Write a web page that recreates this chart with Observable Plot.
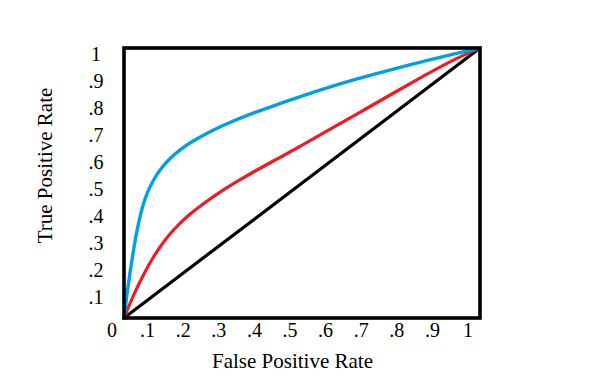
<!DOCTYPE html>
<html>
<head>
<meta charset="utf-8">
<script src="https://cdn.jsdelivr.net/npm/d3@7"></script>
<script src="https://cdn.jsdelivr.net/npm/@observablehq/plot@0.6"></script>
<style>
  html, body { margin: 0; padding: 0; background: #fff; }
  #chart svg { display: block; }
</style>
</head>
<body>
<div id="chart"></div>
<script>
// Tick values and labels
const xTicks = [0, 0.1, 0.2, 0.3, 0.4, 0.5, 0.6, 0.7, 0.8, 0.9, 1];
const yTicks = [0.1, 0.2, 0.3, 0.4, 0.5, 0.6, 0.7, 0.8, 0.9, 1];
const tickLabel = v => v === 0 ? "0" : v === 1 ? "1" : "." + Math.round(v * 10);

// Chance line (black)
const chanceFpr = [0, 1];
const chanceTpr = [0, 1];

// Red ROC curve
const redFpr = [0, 0.028, 0.056, 0.084, 0.112, 0.140, 0.177, 0.224, 0.271, 0.318, 0.365, 0.412, 0.458, 0.496, 0.561, 0.655, 0.749, 0.842, 0.936, 1];
const redTpr = [0, 0.090, 0.164, 0.231, 0.284, 0.329, 0.377, 0.425, 0.468, 0.506, 0.542, 0.576, 0.609, 0.637, 0.686, 0.756, 0.827, 0.897, 0.964, 1];

// Blue ROC curve
const blueFpr = [0, 0.009, 0.018, 0.028, 0.037, 0.051, 0.065, 0.084, 0.103, 0.131, 0.159, 0.196, 0.243, 0.299, 0.365, 0.430, 0.496, 0.561, 0.655, 0.749, 0.842, 0.936, 1];
const blueTpr = [0, 0.095, 0.180, 0.262, 0.330, 0.410, 0.465, 0.515, 0.553, 0.594, 0.625, 0.658, 0.692, 0.726, 0.760, 0.791, 0.820, 0.849, 0.886, 0.919, 0.951, 0.981, 1];

const toRows = (fx, ty) => fx.map((f, i) => ({fpr: f, tpr: ty[i]}));
const chance = toRows(chanceFpr, chanceTpr);
const red = toRows(redFpr, redTpr);
const blue = toRows(blueFpr, blueTpr);

const serif = "'Liberation Serif', 'Times New Roman', serif";

const chart = Plot.plot({
  width: 609,
  height: 379,
  marginLeft: 123.5,
  marginRight: 129.5,
  marginTop: 47.5,
  marginBottom: 61.5,
  style: {fontFamily: serif, background: "#fff", color: "#000"},
  x: {domain: [0, 1]},
  y: {domain: [0, 1]},
  marks: [
    Plot.line(chance, {x: "fpr", y: "tpr", stroke: "#000", strokeWidth: 3.2}),
    Plot.line(red, {x: "fpr", y: "tpr", stroke: "#ed1c24", strokeWidth: 3.2, curve: "basis"}),
    Plot.line(blue, {x: "fpr", y: "tpr", stroke: "#00a0e3", strokeWidth: 3.4, curve: "basis"}),
    Plot.frame({stroke: "#000", strokeWidth: 3.6}),
    Plot.axisX({ticks: xTicks, tickFormat: tickLabel, tickSize: 0, tickPadding: 5, dx: -12,
      fontSize: 20, fontFamily: serif, label: null}),
    Plot.axisY({ticks: yTicks, tickFormat: tickLabel, tickSize: 0, tickPadding: 28, dy: 6.5,
      textAnchor: "middle", fontSize: 20, fontFamily: serif, label: null}),
    Plot.text(["False Positive Rate"], {frameAnchor: "bottom", dx: -9.5, dy: 43,
      lineAnchor: "middle", textAnchor: "middle", fontSize: 21, fontFamily: serif, fill: "#000"}),
    Plot.text(["True Positive Rate"], {frameAnchor: "left", rotate: -90, dx: -79, dy: -17.5,
      lineAnchor: "middle", textAnchor: "middle", fontSize: 21, fontFamily: serif, fill: "#000"})
  ]
});
document.getElementById("chart").appendChild(chart);
</script>
</body>
</html>
